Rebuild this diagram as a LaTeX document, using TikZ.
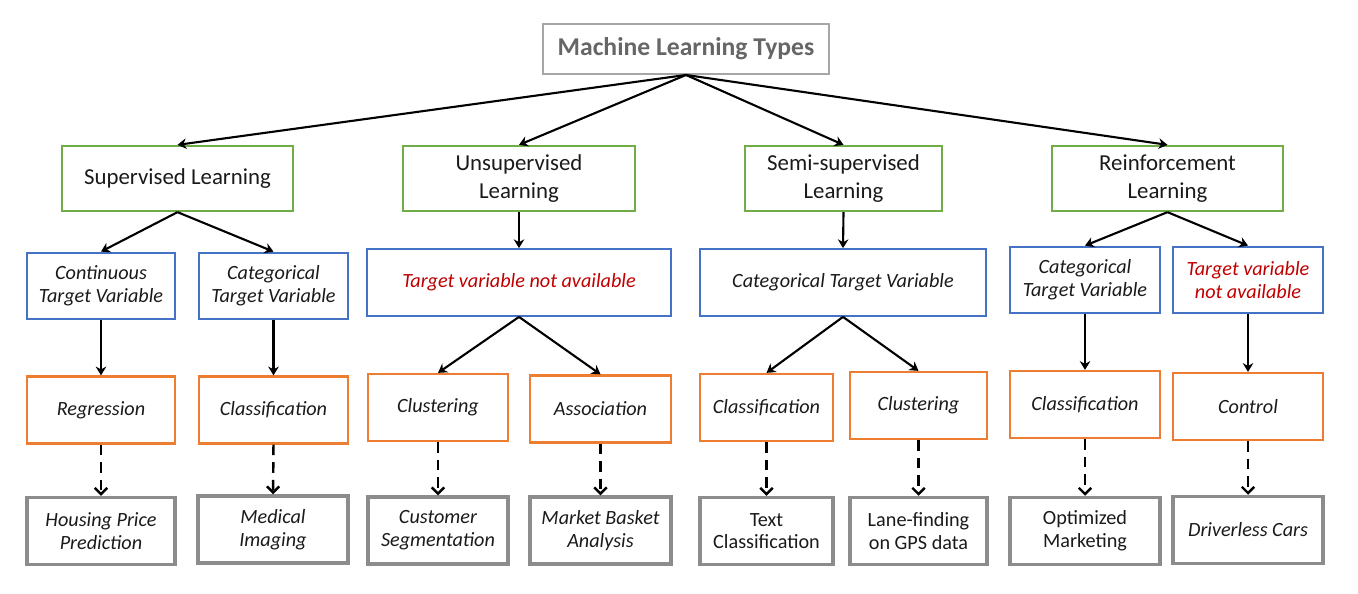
\documentclass[tikz,border=0pt]{standalone}
\usepackage{fontspec}
\setmainfont{Carlito}
\usepackage{xcolor}
\usetikzlibrary{arrows.meta}
\definecolor{mlgreen}{HTML}{70AD47}
\definecolor{mlblue}{HTML}{4472C4}
\definecolor{mlorange}{HTML}{ED7D31}
\definecolor{mlgray}{HTML}{A6A6A6}
\definecolor{mlred}{HTML}{C00000}
\definecolor{mltext}{HTML}{1A1A1A}
\begin{document}
\begin{tikzpicture}[
  x=0.02cm, y=-0.02cm,
  every node/.style={draw, align=center, inner sep=2pt, text=mltext, font=\fontsize{11.5}{13}\selectfont\itshape},
  root/.style={draw=mlgray, line width=1.1pt, minimum width=5.72cm, minimum height=1.0cm, text=black!60, font=\fontsize{14.6}{16}\selectfont\bfseries},
  lone/.style={draw=mlgreen, line width=1.3pt, minimum height=1.3cm, font=\fontsize{13}{16}\selectfont},
  target/.style={draw=mlblue, line width=1.3pt, minimum height=1.33cm},
  task/.style={draw=mlorange, line width=1.3pt, minimum height=1.34cm},
  app/.style={draw=black!45, line width=2pt, minimum height=1.34cm},
  link/.style={-{Stealth[length=5pt,width=6pt]}, line width=1.2pt},
  dlink/.style={-{Straight Barb[length=3.5pt,width=7pt]}, line width=1.4pt, dash pattern=on 6pt off 4pt}
]

\useasboundingbox (0,0) rectangle (1358,593);

\node[root] (title) at (686,49) {Machine Learning Types};

\node[lone, minimum width=4.62cm] (sup) at (177.5,178.5) {Supervised Learning};
\node[lone, minimum width=4.64cm] (uns) at (519,178.5) {Unsupervised\\Learning};
\node[lone, minimum width=3.94cm] (semi) at (843.5,178.5) {Semi-supervised\\Learning};
\node[lone, minimum width=4.62cm] (rein) at (1167.5,178.5) {Reinforcement\\Learning};

\node[target, minimum width=2.96cm] (cont) at (101,286) {Continuous\\Target Variable};
\node[target, minimum width=2.98cm] (catA) at (273.5,286) {Categorical\\Target Variable};
\node[target, minimum width=6.08cm, text=mlred] (navA) at (519,282.5) {Target variable not available};
\node[target, minimum width=5.72cm] (catB) at (843,282.5) {Categorical Target Variable};
\node[target, minimum width=3.0cm] (catC) at (1085,280) {Categorical\\Target Variable};
\node[target, minimum width=3.0cm, text=mlred] (navB) at (1248,280) {Target variable\\not available};

\node[task, minimum width=2.96cm] (regr) at (101,410) {Regression};
\node[task, minimum width=2.98cm] (clsA) at (273.5,410) {Classification};
\node[task, minimum width=2.8cm] (clusA) at (438,407.5) {Clustering};
\node[task, minimum width=2.82cm] (assoc) at (600.5,409) {Association};
\node[task, minimum width=2.66cm] (clsB) at (766.5,407.5) {Classification};
\node[task, minimum width=2.74cm] (clusB) at (918.5,405.5) {Clustering};
\node[task, minimum width=3.0cm] (clsC) at (1085,404.5) {Classification};
\node[task, minimum width=3.0cm] (ctrl) at (1248,406.5) {Control};

\node[app, minimum width=2.96cm] (house) at (101,531) {Housing Price\\Prediction};
\node[app, minimum width=3.0cm] (medic) at (273,529.5) {Medical\\Imaging};
\node[app, minimum width=2.8cm] (cust) at (438,530.5) {Customer\\Segmentation};
\node[app, minimum width=2.82cm] (market) at (600.5,530.5) {Market Basket\\Analysis};
\node[app, minimum width=2.66cm, font=\fontsize{11.5}{13}\selectfont] (textc) at (766.5,531) {Text\\Classification};
\node[app, minimum width=2.74cm, font=\fontsize{11.5}{13}\selectfont] (lane) at (918.5,531) {Lane-finding\\on GPS data};
\node[app, minimum width=3.0cm, font=\fontsize{11.5}{13}\selectfont] (optim) at (1085,531) {Optimized\\Marketing};
\node[app, minimum width=3.0cm] (driver) at (1248,530) {Driverless Cars};

\draw[link] (title.south) -- (sup.north);
\draw[link] (title.south) -- (uns.north);
\draw[link] (title.south) -- (semi.north);
\draw[link] (title.south) -- (rein.north);

\draw[link] (sup.south) -- (cont.north);
\draw[link] (sup.south) -- (catA.north);
\draw[link] (uns.south) -- (navA.north);
\draw[link] (semi.south) -- (catB.north);
\draw[link] (rein.south) -- (catC.north);
\draw[link] (rein.south) -- (navB.north);

\draw[link] (cont.south) -- (regr.north);
\draw[link] (catA.south) -- (clsA.north);
\draw[link] (navA.south) -- (clusA.north);
\draw[link] (navA.south) -- (assoc.north);
\draw[link] (catB.south) -- (clsB.north);
\draw[link] (catB.south) -- (clusB.north);
\draw[link] (catC.south) -- (clsC.north);
\draw[link] (navB.south) -- (ctrl.north);

\draw[dlink] (regr.south) -- (house.north);
\draw[dlink] (clsA.south) -- (medic.north);
\draw[dlink] (clusA.south) -- (cust.north);
\draw[dlink] (assoc.south) -- (market.north);
\draw[dlink] (clsB.south) -- (textc.north);
\draw[dlink] (clusB.south) -- (lane.north);
\draw[dlink] (clsC.south) -- (optim.north);
\draw[dlink] (ctrl.south) -- (driver.north);

\end{tikzpicture}
\end{document}
